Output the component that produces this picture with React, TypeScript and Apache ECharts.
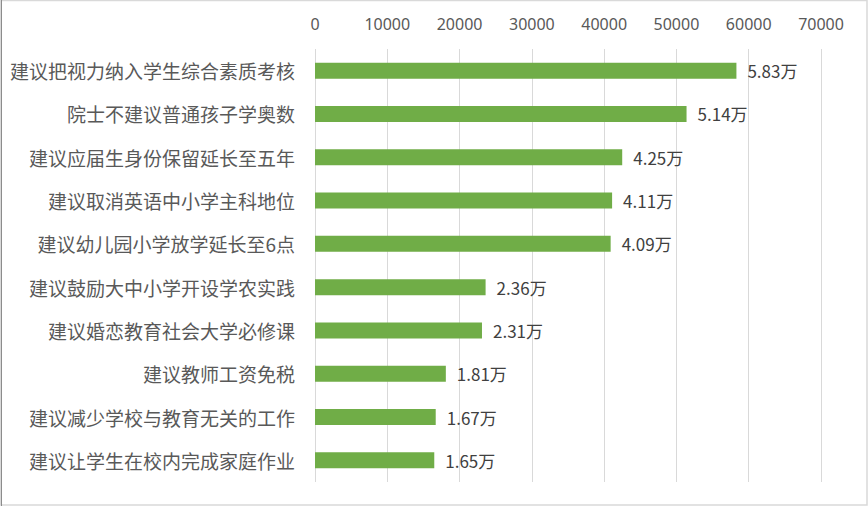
import React, { useEffect, useRef } from "react";
import * as echarts from "echarts";

const categories = [
  "建议把视力纳入学生综合素质考核",
  "院士不建议普通孩子学奥数",
  "建议应届生身份保留延长至五年",
  "建议取消英语中小学主科地位",
  "建议幼儿园小学放学延长至6点",
  "建议鼓励大中小学开设学农实践",
  "建议婚恋教育社会大学必修课",
  "建议教师工资免税",
  "建议减少学校与教育无关的工作",
  "建议让学生在校内完成家庭作业",
];
const values = [58300, 51400, 42500, 41100, 40900, 23600, 23100, 18100, 16700, 16500];
const valueLabels = ["5.83万", "5.14万", "4.25万", "4.11万", "4.09万", "2.36万", "2.31万", "1.81万", "1.67万", "1.65万"];
const xMin = 0;
const xMax = 70000;
const xInterval = 10000;

export default function App() {
  const ref = useRef<HTMLDivElement>(null);
  useEffect(() => {
    if (!ref.current) return;
    const chart = echarts.init(ref.current, null, { renderer: "svg" });
    chart.setOption({
      animation: false,
      backgroundColor: "#ffffff",
      grid: { left: 315, right: 47, top: 49, bottom: 24, containLabel: false },
      xAxis: {
        type: "value",
        position: "top",
        min: xMin,
        max: xMax,
        interval: xInterval,
        axisLine: { show: false },
        axisTick: { show: false },
        axisLabel: {
          color: "#595959",
          fontSize: 16,
          fontFamily: "Noto Sans",
          margin: 17,
          formatter: (v: number) => String(v),
        },
        splitLine: { show: true, lineStyle: { color: "#d9d9d9", width: 1 } },
      },
      yAxis: {
        type: "category",
        inverse: true,
        data: categories,
        axisLine: { show: false },
        axisTick: { show: false },
        axisLabel: {
          color: "#595959",
          fontSize: 19,
          fontFamily: "Noto Sans CJK SC",
          margin: 20,
        },
      },
      series: [
        {
          type: "bar",
          data: values,
          barWidth: 16,
          itemStyle: { color: "#70ad47" },
          label: {
            show: true,
            position: "right",
            distance: 11,
            color: "#404040",
            fontSize: 17,
            fontFamily: "Noto Sans CJK SC",
            formatter: (p: any) => valueLabels[p.dataIndex],
          },
        },
      ],
      graphic: [
        {
          type: "rect",
          shape: { x: 0.5, y: 0.5, width: 866.5, height: 504.5 },
          style: { fill: "none", stroke: "#d9d9d9", lineWidth: 1.5 },
          silent: true,
        },
        {
          type: "line",
          shape: { x1: 1.5, y1: 0, x2: 1.5, y2: 506 },
          style: { stroke: "#8c8c8c", lineWidth: 1 },
          silent: true,
        },
      ],
    });
    return () => chart.dispose();
  }, []);
  return (
    <div
      ref={ref}
      style={{ position: "fixed", left: 0, top: 0, width: 868, height: 506 }}
    />
  );
}
